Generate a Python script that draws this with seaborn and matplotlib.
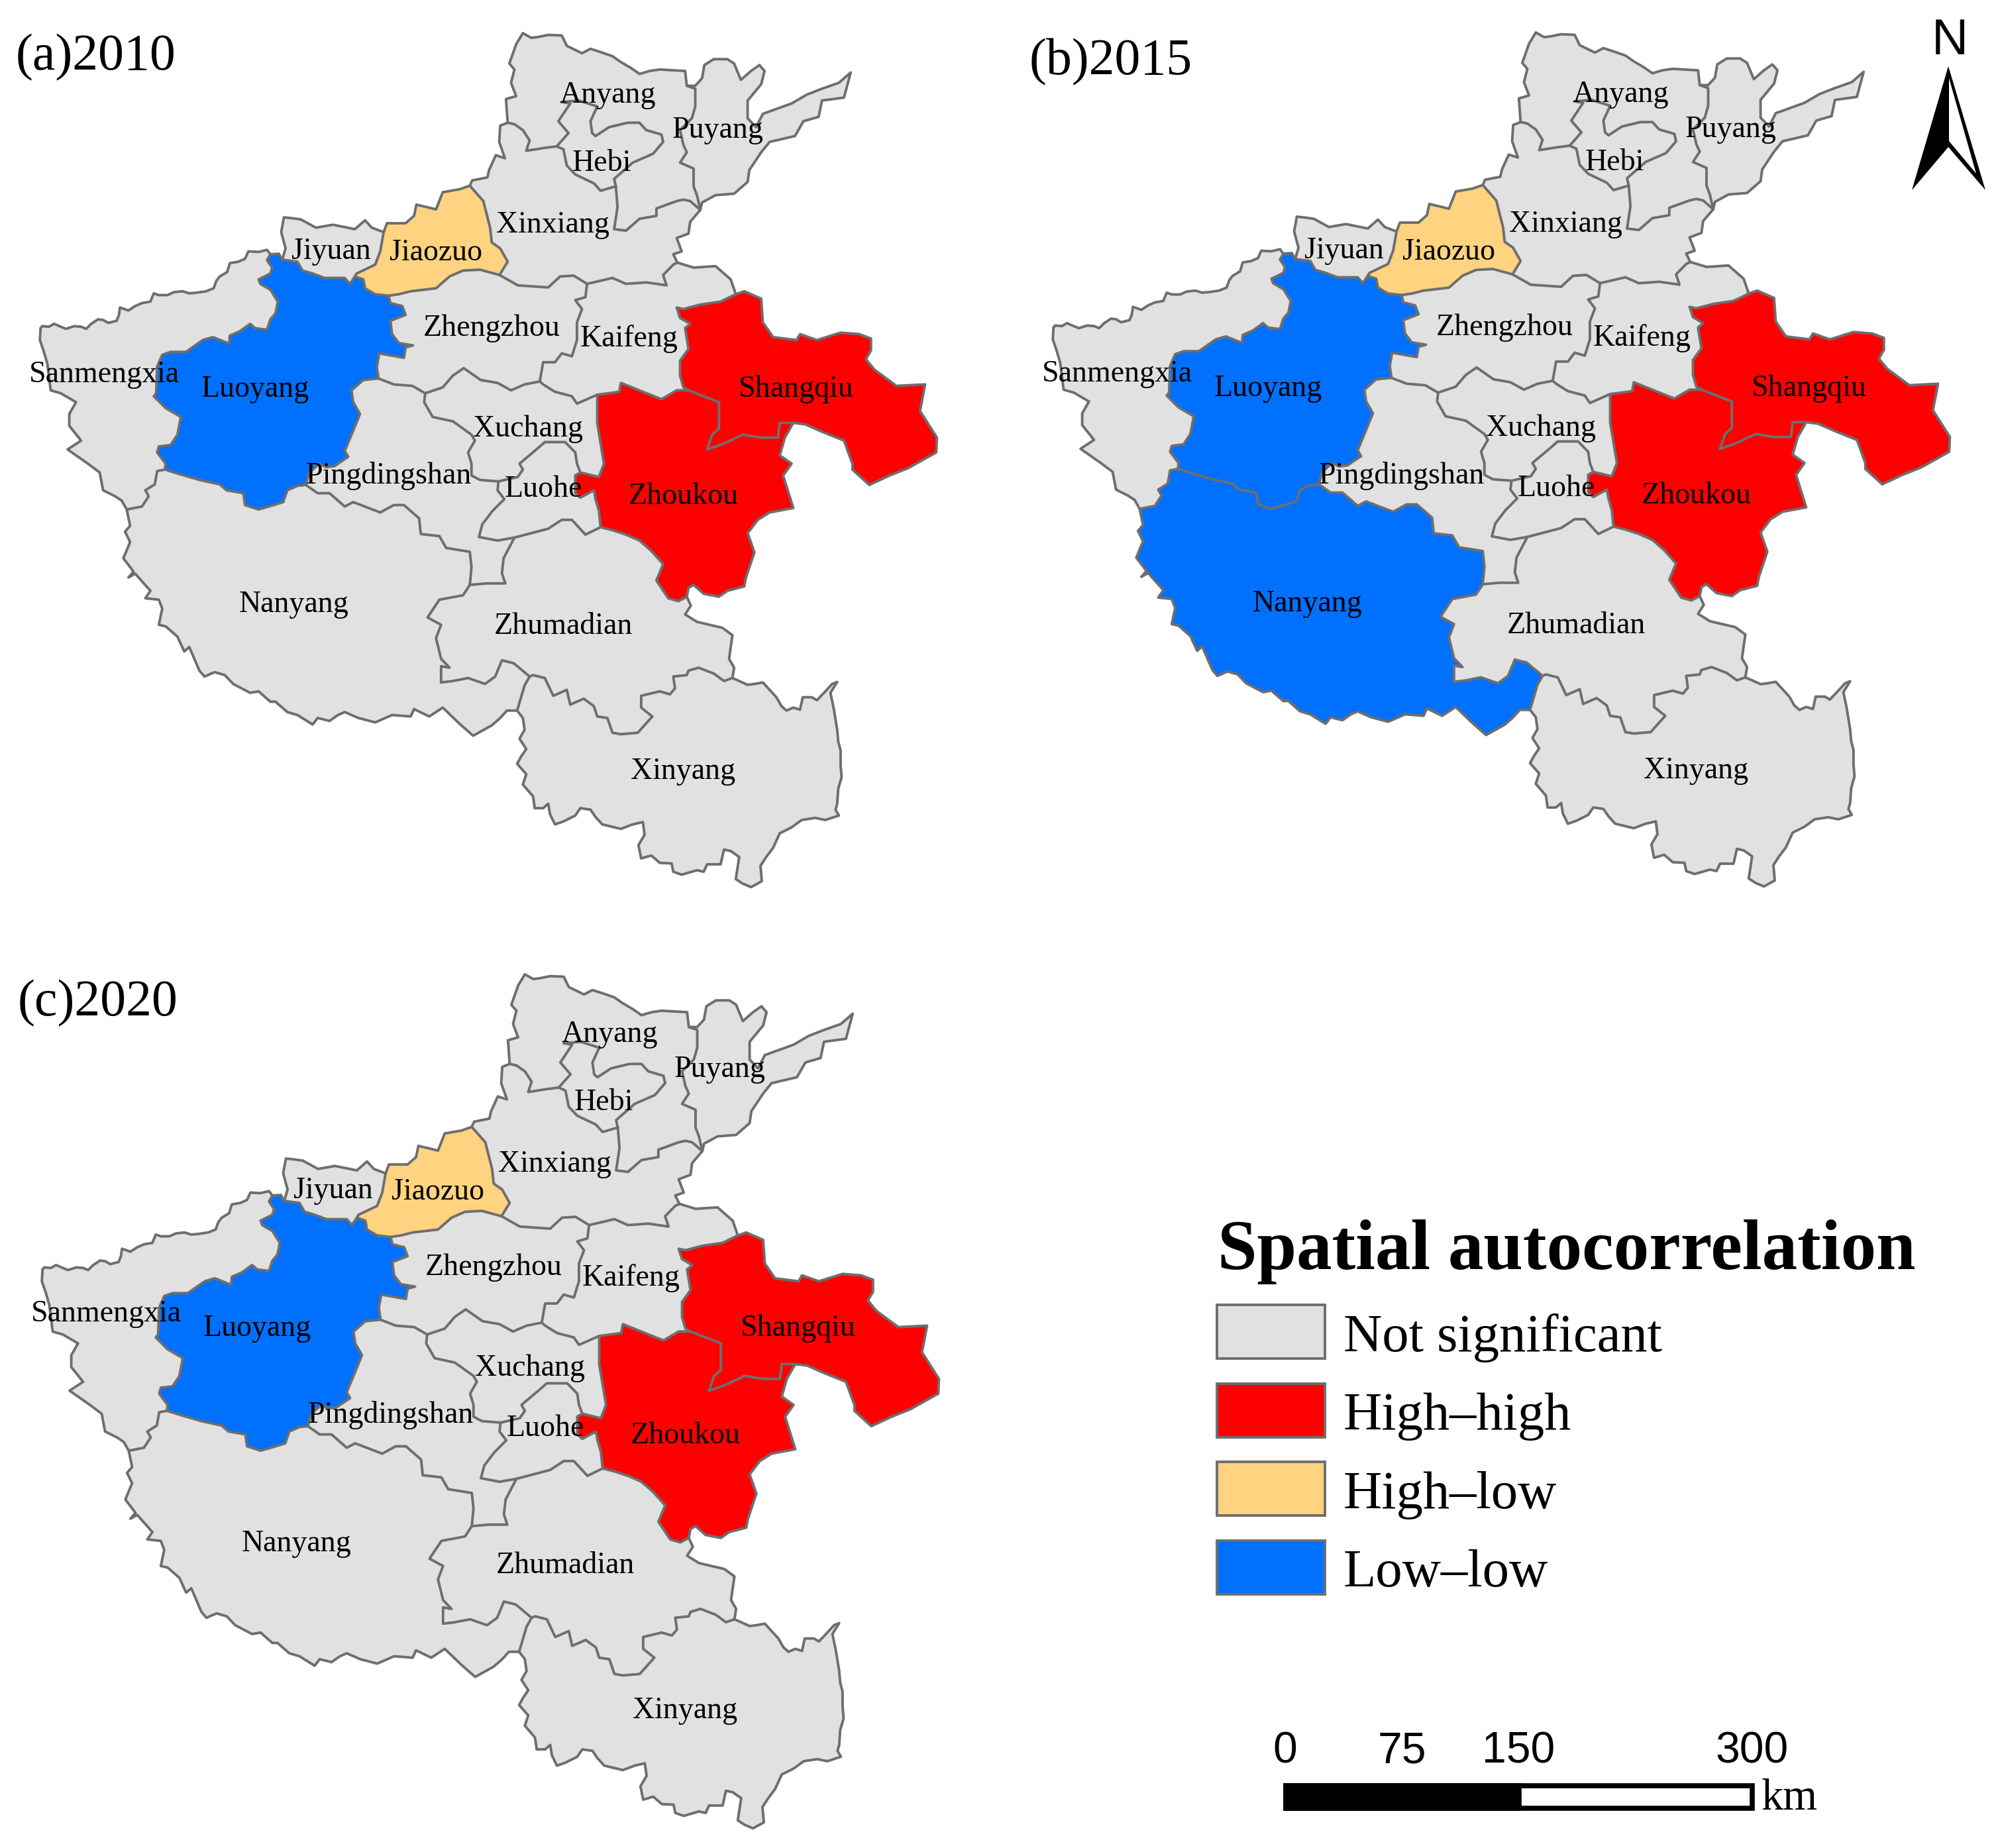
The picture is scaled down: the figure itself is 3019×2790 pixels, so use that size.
import numpy as np
import pandas as pd
import matplotlib
matplotlib.use("Agg")
import matplotlib.pyplot as plt
from matplotlib.patches import Rectangle, Polygon
import seaborn as sns


def t1(pts):
    return [(x / 1.96, y / 2.24) for x, y in pts]


def t2(pts):
    return [(700 + x / 1.96, y / 2.24) for x, y in pts]


def t3(pts):
    return [(x / 1.96, 700 + y / 2.24) for x, y in pts]


def t4(pts):
    return [(700 + x / 1.96, 700 + y / 2.24) for x, y in pts]


# ================= BOUNDARY ARCS =================
sanmenxia_north = t1([(120,1110),(125,1103),(145,1105),(160,1095),(180,1105),(195,1112),(220,1103),(240,1105),(255,1112),(270,1095),(290,1080),(305,1082),(320,1092),(345,1085),(352,1065),(355,1040),(380,1050),(400,1035),(420,1025),(445,1020),(455,992),(470,998),(495,998),(515,988),(540,985),(560,992),(580,990),(610,985),(632,975),(640,950),(650,935),(672,920),(680,890),(705,885),(725,875),(735,850),(765,852),(790,845),(800,860)])
luoyang_sanmenxia = t1([(800,860),(790,880),(805,905),(800,925),(765,945),(770,960),(800,980),(822,1020),(815,1060),(800,1080),(790,1115),(755,1110),(740,1095),(710,1120),(680,1135),(678,1162),(630,1140),(600,1150),(550,1190),(505,1190),(480,1200),(465,1240),(462,1330),(455,1340),(490,1380),(535,1410),(525,1470),(505,1505),(470,1510),(465,1530),(490,1568)]) + t3([(488,20)])
sanmenxia_west = t1([(120,1110),(118,1150),(130,1190),(140,1230),(150,1320),(180,1330),(225,1360),(205,1400),(205,1440),(240,1490),(200,1520),(260,1568)]) + t3([(295,30),(305,90),(340,110),(360,125),(375,155)])
sanmenxia_nanyang = t3([(488,20),(465,25),(458,70),(430,90),(440,110),(420,145),(375,155)])
nanyang_outer = t3([(375,155),(385,210),(370,230),(385,265),(365,320),(395,365),(380,385),(400,372),(445,430),(430,455),(470,460),(480,490),(470,545),(490,550),(525,585),(545,635),(560,620),(590,700),(605,720),(635,705),(665,715),(690,745),(740,775),(765,770),(800,805),(815,805),(850,840),(880,850),(925,882),(940,860),(975,870),(1000,850),(1020,840),(1060,860),(1110,875),(1160,850),(1215,855),(1225,830),(1270,855),(1310,825),(1360,880),(1400,920),(1455,885),(1480,860),(1500,835),(1530,835)])
xinyang_nanyang = t4([(195,720),(180,750),(158,835)])
nanyang_zhumadian = t3([(1390,410),(1370,445),(1300,460),(1265,520),(1305,545),(1290,590),(1305,660),(1330,690),(1305,685),(1305,740),(1340,735),(1385,725),(1435,745),(1465,720),(1485,665),(1520,675),(1567,720)])
nanyang_pingdingshan = t3([(905,72),(940,100),(975,100),(1020,145),(1045,130),(1125,165),(1165,140),(1195,140),(1240,185),(1245,238),(1300,245),(1320,285),(1390,298),(1395,350),(1390,410)])
nanyang_luoyang = t3([(905,72),(880,75),(850,90),(838,130),(810,140),(765,155),(725,140),(720,100),(670,90),(650,70),(590,55),(530,35),(488,20)])
luoyang_pingdingshan = t1([(1120,1280),(1075,1285),(1040,1320),(1045,1360),(1065,1400),(1040,1470),(1020,1525),(1030,1545),(1000,1568)]) + t3([(990,8),(965,12),(945,0),(915,30),(905,72)])
luoyang_zhengzhou = t1([(1150,1000),(1155,1025),(1190,1035),(1200,1065),(1155,1085),(1160,1130),(1180,1160),(1222,1168),(1200,1175),(1195,1210),(1122,1195),(1115,1240),(1120,1280)])
luoyang_tip = t1([(800,860),(825,858),(835,878)])
jiyuan_luoyang = t1([(835,878),(880,885),(895,915),(925,925),(960,940),(1020,940),(1035,960),(1050,935)])
luoyang_jiaozuo = t1([(1050,935),(1075,945),(1080,975),(1110,995),(1150,1000)])
jiyuan_north = t1([(835,878),(845,840),(832,785),(840,735),(865,738),(890,742),(935,770),(985,760),(1050,775),(1080,745),(1100,770),(1135,785)])
jiyuan_jiaozuo = t1([(1135,785),(1125,850),(1110,895),(1055,925),(1050,935)])
jiaozuo_north = t1([(1135,785),(1145,755),(1200,755),(1225,730),(1232,692),(1290,708),(1310,650),(1360,640),(1390,628)])
jiaozuo_xinxiang = t1([(1390,628),(1430,680),(1450,770),(1455,820),(1480,840),(1502,885),(1478,930)])
jiaozuo_zhengzhou = t1([(1478,930),(1420,912),(1370,915),(1330,935),(1290,975),(1215,985),(1180,995),(1150,1000)])

xinxiang_zhengzhou = t2([(106,930),(160,965),(250,972),(285,935),(325,932),(365,960)])
xinxiang_kaifeng = t2([(365,960),(440,940),(480,960),(540,955),(600,965),(590,930),(620,895),(632,888)])
xinxiang_east = t2([(700,710),(670,750),(665,790),(630,805),(645,850),(620,860),(632,888)])
xinxiang_west = t2([(18,628),(25,610),(70,600),(75,575),(95,525),(122,535),(105,480),(108,425),(130,415)])
anyang_xinxiang_w = t2([(130,415),(150,420),(175,440),(195,475),(185,510),(240,500),(275,495)])
anyang_xinxiang_e = t2([(450,630),(455,700),(445,775),(480,780),(520,740),(570,730),(570,705),(630,680),(650,675),(670,680),(700,710)])
anyang_outer = t2([(130,415),(125,335),(155,325),(140,280),(150,235),(135,215),(155,150),(175,112),(200,128),(220,125),(250,118),(290,120),(305,155),(350,180),(375,165),(410,178),(440,190),(465,210),(495,230),(520,250),(550,240),(580,235),(655,240),(660,290)])
puyang_west = t2([(660,290),(685,300),(685,360),(675,400),(640,440),(650,490),(660,515),(640,550),(680,570),(680,630),(690,660),(700,710)])
puyang_outer = t2([(700,710),(705,685),(745,660),(800,655),(840,615),(845,575),(880,515),(905,480),(980,460),(1005,410),(1050,395),(1060,340),(1125,330),(1145,245),(1110,280),(1060,300),(1015,320),(970,350),(885,385),(865,430),(840,400),(840,340),(880,285),(890,240),(875,220),(850,240),(820,270),(800,215),(780,200),(740,200),(712,220),(705,265),(685,290),(660,290)])
hebi_top = t2([(395,360),(340,340),(290,345)])
hebi_left = t2([(290,345),(315,350),(280,410),(310,450),(275,495)])
hebi_bottom = t2([(275,495),(295,505),(305,560),(330,590),(385,620),(405,645),(450,630)])
hebi_right = t2([(450,630),(445,605),(500,550),(560,520),(590,480),(585,455),(540,440),(520,415),(485,415),(430,430),(390,460),(380,450),(375,410),(395,360)])

kaifeng_north = t2([(632,888),(680,905),(745,900),(790,945),(805,995)])
kaifeng_shangqiu = t2([(805,995),(760,1020),(700,1030),(650,1045),(630,1040),(640,1075),(670,1095),(655,1110),(665,1180),(640,1220),(640,1270),(650,1310),(665,1320)])
kaifeng_zhoukou = t2([(665,1320),(630,1320),(585,1350),(530,1325),(465,1295),(460,1325),(395,1335)])
kaifeng_xuchang = t2([(395,1335),(335,1365),(320,1340),(270,1325),(235,1300),(225,1290)])
kaifeng_zhengzhou = t2([(225,1290),(235,1225),(270,1225),(290,1195),(320,1205),(335,1150),(335,1090),(350,1045),(330,1015),(360,1005),(365,960)])
zhengzhou_xuchang = t2([(225,1290),(180,1300),(140,1320),(100,1295),(50,1285),(0,1245)]) + t1([(1340,1270),(1310,1310),(1258,1330)])
zhengzhou_pingdingshan = t1([(1120,1280),(1165,1300),(1220,1305),(1258,1330)])
xuchang_pingdingshan = t1([(1258,1330),(1255,1360),(1280,1410),(1340,1425),(1395,1470),(1405,1490),(1385,1530),(1395,1568)]) + t3([(1395,40),(1420,55),(1475,60)])
xuchang_luohe = t4([(103,60),(160,45),(175,20),(165,0)]) + t2([(215,1520),(240,1495),(300,1495),(330,1530),(335,1568)]) + t4([(345,30)])
xuchang_zhoukou = t2([(395,1335),(395,1430),(415,1568)]) + t4([(400,45),(345,30)])
luohe_zhoukou = t4([(345,30),(330,40),(330,100),(345,115),(385,90),(390,120),(400,160),(405,215)])
luohe_pingdingshan = t4([(103,60),(100,90),(120,120),(85,160),(55,205),(45,248),(100,260),(150,250)])
luohe_zhumadian = t4([(150,250),(200,235),(250,220),(290,190),(320,190),(360,240),(405,215)])
pingdingshan_zhumadian = t3([(1390,410),(1440,405),(1495,405),(1485,370),(1490,320),(1522,250)])
zhumadian_zhoukou = t4([(405,215),(440,225),(480,240),(520,260),(555,295),(590,340),(570,395),(605,455),(635,465),(660,450)])
zhoukou_outer = t4([(660,450),(665,420),(680,410),(710,440),(755,450),(780,430),(830,415),(835,385),(860,300),(840,235),(870,190),(905,165),(975,150),(945,40),(970,0)]) + t2([(935,1540),(950,1480),(975,1430)])
shangqiu_zhoukou = t2([(975,1430),(935,1430),(930,1480),(880,1480),(825,1470),(770,1500),(720,1520),(735,1470),(755,1450),(755,1360),(665,1320)])
shangqiu_outer = t2([(805,995),(830,985),(880,1010),(885,1090),(915,1140),(985,1150),(995,1130),(1045,1150),(1115,1125),(1170,1130),(1205,1145),(1205,1185),(1190,1215),(1215,1250),(1280,1305),(1365,1300),(1350,1390),(1400,1480),(1398,1530)]) + t4([(1315,15),(1260,40),(1200,72),(1150,20),(1150,0)]) + t2([(1125,1490),(1060,1460),(1010,1435),(975,1430)])
zhumadian_outer = t4([(660,450),(672,480),(655,510),(690,535),(765,555),(795,580),(785,660),(800,690),(795,725)])
xinyang_zhumadian = t4([(795,725),(770,735),(740,710),(695,690),(665,700),(660,715),(620,720),(625,760),(610,780),(580,770),(525,785),(525,825),(558,855),(515,910),(465,915),(440,910),(425,860),(395,855),(385,820),(355,795),(315,815),(305,765),(265,785),(240,725),(205,715),(195,720)])
xinyang_outer = t4([(795,725),(815,735),(840,748),(860,745),(885,740),(905,765),(925,790),(940,820),(955,835),(975,825),(995,832),(1003,790),(1030,790),(1045,800),(1070,770),(1090,745),(1105,738),(1085,775),(1095,830),(1105,900),(1108,940),(1115,970),(1115,1020),(1118,1060),(1108,1100),(1105,1150),(1100,1170),(1110,1190),(1070,1205),(1040,1198),(1000,1205),(970,1230),(935,1250),(925,1275),(915,1300),(895,1330),(878,1360),(882,1412),(850,1432),(825,1420),(805,1405),(815,1330),(790,1310),(770,1305),(760,1355),(720,1355),(710,1380),(690,1375),(645,1390),(620,1380),(615,1352),(580,1350),(555,1325),(525,1335),(517,1290),(535,1255),(530,1212),(500,1220),(465,1235),(410,1220),(390,1195),(375,1170),(345,1165),(330,1190),(295,1210),(270,1220),(255,1185),(250,1150),(235,1165),(210,1165),(205,1125),(175,1085),(185,1050),(158,1015),(170,990),(185,965),(165,930),(180,900),(175,860),(158,835)])

# ================= CITIES =================
city_rings = {
    "Sanmengxia": [sanmenxia_north, luoyang_sanmenxia, sanmenxia_nanyang, sanmenxia_west],
    "Luoyang": [luoyang_sanmenxia, nanyang_luoyang, luoyang_pingdingshan, luoyang_zhengzhou, luoyang_jiaozuo, jiyuan_luoyang, luoyang_tip],
    "Nanyang": [nanyang_outer, xinyang_nanyang, nanyang_zhumadian, nanyang_pingdingshan, nanyang_luoyang, sanmenxia_nanyang],
    "Pingdingshan": [zhengzhou_pingdingshan, xuchang_pingdingshan, luohe_pingdingshan, pingdingshan_zhumadian, nanyang_pingdingshan, luoyang_pingdingshan],
    "Zhengzhou": [jiaozuo_zhengzhou, luoyang_zhengzhou, zhengzhou_pingdingshan, zhengzhou_xuchang, kaifeng_zhengzhou, xinxiang_zhengzhou],
    "Kaifeng": [xinxiang_kaifeng, kaifeng_north, kaifeng_shangqiu, kaifeng_zhoukou, kaifeng_xuchang, kaifeng_zhengzhou],
    "Xuchang": [zhengzhou_xuchang, xuchang_pingdingshan, xuchang_luohe, xuchang_zhoukou, kaifeng_xuchang],
    "Luohe": [xuchang_luohe, luohe_zhoukou, luohe_zhumadian, luohe_pingdingshan],
    "Zhoukou": [shangqiu_zhoukou, kaifeng_zhoukou, xuchang_zhoukou, luohe_zhoukou, zhumadian_zhoukou, zhoukou_outer],
    "Shangqiu": [kaifeng_shangqiu, shangqiu_zhoukou, shangqiu_outer],
    "Zhumadian": [pingdingshan_zhumadian, luohe_zhumadian, zhumadian_zhoukou, zhumadian_outer, xinyang_zhumadian, nanyang_zhumadian],
    "Xinyang": [xinyang_outer, xinyang_nanyang, xinyang_zhumadian],
    "Jiyuan": [jiyuan_north, jiyuan_jiaozuo, jiyuan_luoyang],
    "Jiaozuo": [jiaozuo_north, jiaozuo_xinxiang, jiaozuo_zhengzhou, luoyang_jiaozuo, jiyuan_jiaozuo],
    "Xinxiang": [xinxiang_west, anyang_xinxiang_w, hebi_bottom, anyang_xinxiang_e, xinxiang_east, xinxiang_kaifeng, xinxiang_zhengzhou, jiaozuo_xinxiang],
    "Anyang": [anyang_outer, puyang_west, anyang_xinxiang_e, hebi_right, hebi_top, hebi_left, anyang_xinxiang_w],
    "Hebi": [hebi_top, hebi_left, hebi_bottom, hebi_right],
    "Puyang": [puyang_west, puyang_outer],
}

label_names = ["Anyang", "Puyang", "Hebi", "Xinxiang", "Jiyuan", "Jiaozuo", "Zhengzhou", "Kaifeng", "Sanmengxia",
               "Luoyang", "Shangqiu", "Xuchang", "Pingdingshan", "Luohe", "Zhoukou", "Nanyang", "Zhumadian", "Xinyang"]
label_x = [917, 1084, 908, 834, 500, 658, 742, 950, 157, 385, 1202, 797, 587, 820, 1032, 444, 850, 1031]
label_y = [141, 194, 244, 337, 377, 379, 493, 509, 563, 585, 585, 645, 716, 736, 747, 910, 943, 1162]

# ================= PANELS =================
panel_titles = ["(a)2010", "(b)2015", "(c)2020"]
panel_dx = [0, 1529, 3]
panel_dy = [0, -1, 1421]
label_shift_y = [3, 3, 0]
title_x = [145, 1677, 148]
title_y = [87, 94, 1515]

high_high_2010 = ["Shangqiu", "Zhoukou"]
high_low_2010 = ["Jiaozuo"]
low_low_2010 = ["Luoyang"]
high_high_2015 = ["Shangqiu", "Zhoukou"]
high_low_2015 = ["Jiaozuo"]
low_low_2015 = ["Luoyang", "Nanyang"]
high_high_2020 = ["Shangqiu", "Zhoukou"]
high_low_2020 = ["Jiaozuo"]
low_low_2020 = ["Luoyang"]

panel_classes = [
    (high_high_2010, high_low_2010, low_low_2010),
    (high_high_2015, high_low_2015, low_low_2015),
    (high_high_2020, high_low_2020, low_low_2020),
]

legend_labels = ["Not significant", "High\u2013high", "High\u2013low", "Low\u2013low"]
legend_colors = ["#e1e1e1", "#ff0000", "#ffd37f", "#0070ff"]
edge_color = "#6e6e6e"

scale_km = [0, 75, 150, 300]

arc_list = [
    sanmenxia_north, luoyang_sanmenxia, sanmenxia_west, sanmenxia_nanyang, nanyang_outer, xinyang_nanyang,
    nanyang_zhumadian, nanyang_pingdingshan, nanyang_luoyang, luoyang_pingdingshan, luoyang_zhengzhou, luoyang_tip,
    jiyuan_luoyang, luoyang_jiaozuo, jiyuan_north, jiyuan_jiaozuo, jiaozuo_north, jiaozuo_xinxiang, jiaozuo_zhengzhou,
    xinxiang_zhengzhou, xinxiang_kaifeng, xinxiang_east, xinxiang_west, anyang_xinxiang_w, anyang_xinxiang_e,
    anyang_outer, puyang_west, puyang_outer, hebi_top, hebi_left, hebi_bottom, hebi_right, kaifeng_north,
    kaifeng_shangqiu, kaifeng_zhoukou, kaifeng_xuchang, kaifeng_zhengzhou, zhengzhou_xuchang, zhengzhou_pingdingshan,
    xuchang_pingdingshan, xuchang_luohe, xuchang_zhoukou, luohe_zhoukou, luohe_pingdingshan, luohe_zhumadian,
    pingdingshan_zhumadian, zhumadian_zhoukou, zhoukou_outer, shangqiu_zhoukou, shangqiu_outer, zhumadian_outer,
    xinyang_zhumadian, xinyang_outer,
]


def build_ring(arcs):
    # walk the arcs in order, flipping each one so it starts where the last one ended
    first = np.array(arcs[0])
    nxt = np.array(arcs[1])
    ends = [nxt[0], nxt[-1]]
    if min(np.hypot(*(first[0] - e)) for e in ends) < min(np.hypot(*(first[-1] - e)) for e in ends):
        first = first[::-1]
    ring = [first]
    for arc in arcs[1:]:
        arc = np.array(arc)
        last = ring[-1][-1]
        if np.hypot(*(last - arc[-1])) < np.hypot(*(last - arc[0])):
            arc = arc[::-1]
        ring.append(arc)
    return np.vstack(ring)


sns.set_theme(style="white")
plt.rcParams["font.family"] = ["Liberation Serif", "DejaVu Sans"]
plt.rcParams["lines.solid_joinstyle"] = "round"

fig = plt.figure(figsize=(30.19, 27.90), dpi=100)
ax = fig.add_axes([0, 0, 1, 1])

rows = []
for arc_id, arc in enumerate(arc_list):
    for x, y in arc:
        rows.append({"arc": arc_id, "x": x, "y": y})
arc_df = pd.DataFrame(rows)

for p, title in enumerate(panel_titles):
    dx, dy = panel_dx[p], panel_dy[p]
    hh, hl, ll = panel_classes[p]

    for city, arcs in city_rings.items():
        if city in hh:
            color = legend_colors[1]
        elif city in hl:
            color = legend_colors[2]
        elif city in ll:
            color = legend_colors[3]
        else:
            color = legend_colors[0]
        ring = build_ring(arcs)
        ax.fill(ring[:, 0] + dx, ring[:, 1] + dy, color=color, lw=0, zorder=1)

    shifted = arc_df.assign(x=arc_df.x + dx, y=arc_df.y + dy)
    sns.lineplot(data=shifted, x="x", y="y", units="arc", estimator=None, sort=False,
                 color=edge_color, linewidth=2.8, legend=False, ax=ax, zorder=2)

    for name, lx, ly in zip(label_names, label_x, label_y):
        ax.text(lx + dx, ly + dy + label_shift_y[p], name, fontsize=33, color="black",
                ha="center", va="center", zorder=3)
    ax.text(title_x[p], title_y[p], title, fontsize=56, color="black", ha="center", va="center", zorder=3)

# ================= LEGEND =================
ax.text(1838, 1890, "Spatial autocorrelation", fontsize=77, fontweight="bold", color="black",
        ha="left", va="center")
swatch_y = [1970, 2088.5, 2207, 2326]
for label, color, sy in zip(legend_labels, legend_colors, swatch_y):
    ax.add_patch(Rectangle((1837, sy), 163, 81, facecolor=color, edgecolor=edge_color, linewidth=2.8))
    ax.text(2028, sy + 50, label, fontsize=58, color="black", ha="left", va="center")

# ================= SCALE BAR =================
bar_x0 = 1941
bar_per_km = 2.347
ax.add_patch(Rectangle((bar_x0, 2696), bar_per_km * scale_km[3], 34, facecolor="white", edgecolor="black", linewidth=5.5))
ax.add_patch(Rectangle((bar_x0, 2696), bar_per_km * scale_km[2], 34, facecolor="black", edgecolor="black", linewidth=5.5))
for km in scale_km:
    ax.text(bar_x0 - 1 + bar_per_km * km, 2644, str(km), fontsize=47.5, family="Liberation Sans", color="black",
            ha="center", va="center")
ax.text(2659, 2716, "km", fontsize=48, color="black", ha="left", va="center")

# ================= NORTH ARROW =================
ax.add_patch(Polygon([(2941, 100), (2886, 287), (2941, 222)], closed=True, facecolor="black", edgecolor="none"))
ax.add_patch(Polygon([(2941, 100), (2997, 287), (2941, 222)], closed=True, facecolor="black", edgecolor="none"))
ax.add_patch(Polygon([(2942, 118), (2983, 262), (2942, 213)], closed=True, facecolor="white", edgecolor="none"))
ax.text(2943, 62, "N", fontsize=55, family="Liberation Sans", color="black", ha="center", va="center")

ax.set_xlim(0, 3019)
ax.set_ylim(2790, 0)
ax.set_axis_off()

fig.savefig("out.png", dpi=100)
plt.close(fig)
